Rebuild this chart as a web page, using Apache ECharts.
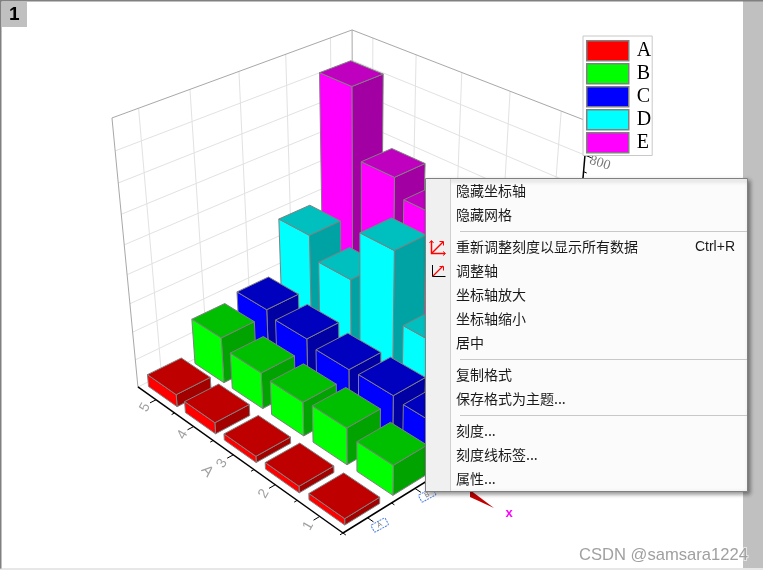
<!DOCTYPE html>
<html>
<head>
<meta charset="utf-8">
<script src="https://cdn.jsdelivr.net/npm/echarts@6/dist/echarts.min.js"></script>
<style>
html,body{margin:0;padding:0;background:#fff;}
#main{width:763px;height:571px;}
</style>
</head>
<body>
<div id="main"></div>
<script>
// values, one list per row (index 0 = tick 1 ... index 4 = tick 5)
const seriesNames = ['A', 'B', 'C', 'D', 'E'];
const yTicks = ['1', '2', '3', '4', '5'];
const valuesA = [22, 23, 22, 40, 44];
const valuesB = [104, 129, 120, 129, 164];
const valuesC = [140, 150, 147, 166, 185];
const valuesD = [200, 238, 475, 297, 375];
const valuesE = [400, 450, 517, 577, 812];
const allValues = [valuesA, valuesB, valuesC, valuesD, valuesE];
const seriesColors = ['#ff0000', '#00ff00', '#0000ff', '#00ffff', '#ff00ff'];
const zMax = 900;
const zGrid = [100, 200, 300, 400, 500, 600, 700, 800];
const zLabels = ['800'];

const menuRows = [
  ['隐藏坐标轴', 191], ['隐藏网格', 215], ['重新调整刻度以显示所有数据', 247], ['调整轴', 271],
  ['坐标轴放大', 295], ['坐标轴缩小', 319], ['居中', 343], ['复制格式', 375],
  ['保存格式为主题...', 399], ['刻度...', 431], ['刻度线标签...', 455], ['属性...', 479]
];
const menuSeps = [231, 359, 415];

// perspective camera fitted to the box corners: three vanishing points + depth factors
const origin = [343, 533];
const vanishX = [2316, -690], vanishY = [-1220, -580], vanishZ = [362, 2707];
const kx = 0.1261, ky = 0.151, kz = -0.1196;

const barW = 0.36, barD = 0.39; // half footprint, in category units

function project(u, v, w) {
  const d = 1 + kx * u + ky * v + kz * w;
  return [
    (origin[0] + kx * u * vanishX[0] + ky * v * vanishY[0] + kz * w * vanishZ[0]) / d,
    (origin[1] + kx * u * vanishX[1] + ky * v * vanishY[1] + kz * w * vanishZ[1]) / d
  ];
}
// category position / value -> unit box
const toU = i => (i + 0.5) / seriesNames.length;
const toV = i => (i + 0.5) / yTicks.length;
const toW = z => z / zMax;

function shade(hex, f) {
  const n = parseInt(hex.slice(1), 16);
  const r = Math.round((n >> 16 & 255) * f), gr = Math.round((n >> 8 & 255) * f), b = Math.round((n & 255) * f);
  return 'rgb(' + r + ',' + gr + ',' + b + ')';
}
function pt(api, u, v, w) {
  return api.coord(project(u, v, w));
}
function seg(api, a, b, color, width) {
  const p = pt(api, a[0], a[1], a[2]), q = pt(api, b[0], b[1], b[2]);
  return {
    type: 'line',
    shape: { x1: p[0], y1: p[1], x2: q[0], y2: q[1] },
    style: { stroke: color, lineWidth: width }
  };
}
function label(api, a, dx, dy, text, rot, font, color) {
  const p = pt(api, a[0], a[1], a[2]);
  return {
    type: 'text', x: p[0] + dx, y: p[1] + dy, rotation: rot,
    style: { text: text, font: font, fill: color, align: 'center', verticalAlign: 'middle' }
  };
}

// walls, grid, axes and their ticks
function renderFrame(params, api) {
  const kids = [];
  const light = '#e2e2e2', edge = '#a8a8a8';
  zGrid.forEach(z => {
    const w = toW(z);
    kids.push(seg(api, [0, 1, w], [1, 1, w], light, 1));
    kids.push(seg(api, [1, 1, w], [1, 0, w], light, 1));
  });
  seriesNames.forEach((n, i) => {
    kids.push(seg(api, [toU(i), 1, 0], [toU(i), 1, 1], light, 1));
  });
  yTicks.forEach((n, i) => {
    kids.push(seg(api, [1, toV(i), 0], [1, toV(i), 1], light, 1));
  });
  kids.push(seg(api, [0, 1, 0], [1, 1, 0], light, 1));
  kids.push(seg(api, [1, 1, 0], [1, 0, 0], light, 1));
  kids.push(seg(api, [0, 1, 1], [1, 1, 1], edge, 1));
  kids.push(seg(api, [1, 1, 1], [1, 0, 1], edge, 1));
  kids.push(seg(api, [0, 1, 0], [0, 1, 1], edge, 1));
  kids.push(seg(api, [1, 1, 0], [1, 1, 1], edge, 1));

  // y axis, front left
  kids.push(seg(api, [0, 0, 0], [0, 1, 0], '#000', 1.5));
  yTicks.forEach((n, i) => {
    kids.push(seg(api, [0, toV(i), 0], [-0.025, toV(i), 0], '#000', 1));
    kids.push(seg(api, [0, i / yTicks.length, 0], [-0.012, i / yTicks.length, 0], '#000', 1));
    kids.push(label(api, [-0.07, toV(i), 0], 6, -1, n, 1.05, '14px "Liberation Sans"', '#a0a0a0'));
  });
  kids.push(label(api, [-0.07, 0.5, 0], -9, 7, 'A', -0.85, '15px "Liberation Sans"', '#a0a0a0'));

  // x axis, front right
  kids.push(seg(api, [0, 0, 0], [1, 0, 0], '#000', 1.5));
  seriesNames.forEach((n, i) => {
    kids.push(seg(api, [toU(i), 0, 0], [toU(i), -0.025, 0], '#000', 1));
    kids.push(seg(api, [i / seriesNames.length, 0, 0], [i / seriesNames.length, -0.012, 0], '#000', 1));
    // selected tick labels: tiny text inside a dashed blue box
    const c = pt(api, toU(i), -0.08, 0);
    kids.push({
      type: 'group', x: c[0] - 7, y: c[1] - 6, rotation: 0.5,
      children: [
        { type: 'rect', shape: { x: -8, y: -4, width: 16, height: 8, r: 1 },
          style: { fill: 'none', stroke: '#4a7fe0', lineWidth: 1, lineDash: [2, 1] } },
        { type: 'text', x: 0, y: 0,
          style: { text: n, font: '7px "Liberation Sans"', fill: '#777', align: 'center', verticalAlign: 'middle' } }
      ]
    });
  });

  // z axis on the right corner
  kids.push(seg(api, [1, 0, 0], [1, 0, 1], '#000', 1.5));
  zGrid.forEach(z => {
    kids.push(seg(api, [1, 0, toW(z)], [1, -0.025, toW(z)], '#000', 1));
    kids.push(seg(api, [1, 0, toW(z - 50)], [1, -0.012, toW(z - 50)], '#000', 1));
  });
  zLabels.forEach(t => {
    kids.push(label(api, [1, 0, toW(+t)], 15, 8, t, -0.3, '14px "Liberation Serif"', '#777777'));
  });
  return { type: 'group', children: kids };
}

function renderBar(params, api) {
  const ui = seriesNames.indexOf(params.seriesName);
  const vi = api.value(0);
  const w = toW(api.value(1));
  const u0 = (ui + 0.5 - barW) / 5, u1 = (ui + 0.5 + barW) / 5;
  const v0 = (vi + 0.5 - barD) / 5, v1 = (vi + 0.5 + barD) / 5;
  const color = seriesColors[ui];
  const stroke = { stroke: '#808080', lineWidth: 1 };
  const poly = (pts, fill) => ({
    type: 'polygon',
    shape: { points: pts.map(p => pt(api, p[0], p[1], p[2])) },
    style: Object.assign({ fill: fill }, stroke)
  });
  return {
    type: 'group',
    children: [
      poly([[u0, v0, 0], [u1, v0, 0], [u1, v0, w], [u0, v0, w]], shade(color, 0.64)),
      poly([[u0, v0, 0], [u0, v1, 0], [u0, v1, w], [u0, v0, w]], color),
      poly([[u0, v0, w], [u1, v0, w], [u1, v1, w], [u0, v1, w]], shade(color, 0.75))
    ]
  };
}

// far rows first so nearer bars paint over them, same for ticks inside a row
const barSeries = seriesNames.map((name, i) => ({
  name: name,
  type: 'custom',
  coordinateSystem: 'cartesian2d',
  renderItem: renderBar,
  itemStyle: { color: seriesColors[i] },
  silent: true,
  data: allValues[i].map((val, j) => [j, val]).reverse()
})).reverse();

const g = [];
const Z = 100;
g.push({ type: 'rect', z: Z - 5, shape: { x: 743, y: 0, width: 20, height: 568 }, style: { fill: '#c0c0c0' } });
g.push({ type: 'rect', z: Z - 5, shape: { x: 0, y: 0, width: 763, height: 1.5 }, style: { fill: '#808080' } });
g.push({ type: 'rect', z: Z - 5, shape: { x: 0, y: 0, width: 1.5, height: 569 }, style: { fill: '#808080' } });
g.push({ type: 'rect', z: Z - 5, shape: { x: 0, y: 568.5, width: 763, height: 1 }, style: { fill: '#d0d0d0' } });
g.push({ type: 'rect', z: Z - 5, shape: { x: 2, y: 2, width: 25, height: 25 }, style: { fill: '#c0c0c0' } });
g.push({ type: 'text', z: Z - 4, x: 9, y: 15, style: { text: '1', font: 'bold 19px "Liberation Sans"', fill: '#000', verticalAlign: 'middle' } });

// arrow of the x direction and its letter, partly under the menu
g.push({ type: 'polygon', z: Z - 4, shape: { points: [[470, 490], [494, 508], [470, 497]] }, style: { fill: '#c00000' } });
g.push({ type: 'text', z: Z - 4, x: 509, y: 513, style: { text: 'x', font: 'bold 13px "Liberation Sans"', fill: '#ff00ff', align: 'center', verticalAlign: 'middle' } });

// context menu
g.push({
  type: 'rect', z: Z, shape: { x: 425.5, y: 178.5, width: 322, height: 313 },
  style: { fill: '#fbfbfb', stroke: '#808080', lineWidth: 1, shadowBlur: 4, shadowOffsetX: 2, shadowOffsetY: 2, shadowColor: 'rgba(0,0,0,0.4)' }
});
g.push({ type: 'rect', z: Z + 1, shape: { x: 426, y: 179, width: 24, height: 312 }, style: { fill: '#f0f0f0' } });
g.push({ type: 'line', z: Z + 1, shape: { x1: 450.5, y1: 179, x2: 450.5, y2: 491 }, style: { stroke: '#d0d0d0', lineWidth: 1 } });
menuSeps.forEach(y => {
  g.push({ type: 'line', z: Z + 1, shape: { x1: 460, y1: y + 0.5, x2: 747, y2: y + 0.5 }, style: { stroke: '#c8c8c8', lineWidth: 1 } });
});
menuRows.forEach(r => {
  g.push({ type: 'text', z: Z + 1, x: 456, y: r[1], style: { text: r[0], font: '14px "Noto Sans CJK SC"', fill: '#1a1a1a', verticalAlign: 'middle' } });
});
g.push({ type: 'text', z: Z + 1, x: 735, y: 247, style: { text: 'Ctrl+R', font: '14px "Liberation Sans"', fill: '#1a1a1a', align: 'right', verticalAlign: 'middle' } });

// two small menu icons
function menuLine(pts, color, width) {
  g.push({ type: 'polyline', z: Z + 2, shape: { points: pts }, style: { fill: 'none', stroke: color, lineWidth: width } });
}
menuLine([[431.5, 241], [431.5, 253.5], [445, 253.5]], '#ff0000', 1.5);
menuLine([[432, 253], [443, 242]], '#ff0000', 1.5);
menuLine([[429.5, 243], [431.5, 240.5], [433.5, 243]], '#ff0000', 1);
menuLine([[443, 251.5], [445.5, 253.5], [443, 255.5]], '#ff0000', 1);
menuLine([[439.5, 241.5], [443.5, 241.5], [443.5, 245.5]], '#ff0000', 1);
menuLine([[432.5, 265], [432.5, 276.5], [445.5, 276.5]], '#000000', 1);
menuLine([[433, 276], [443, 266]], '#ff0000', 1.2);
menuLine([[439.5, 266.5], [443.5, 266.5], [443.5, 270.5]], '#ff0000', 1);

g.push({
  type: 'text', z: Z + 5, x: 748, y: 555,
  style: { text: 'CSDN @samsara1224', font: '16.6px "Liberation Sans"', fill: '#a0a0a0', align: 'right', verticalAlign: 'middle', stroke: 'rgba(255,255,255,0.6)', lineWidth: 2 }
});

const myChart = echarts.init(document.getElementById('main'), null, { renderer: 'canvas' });
myChart.setOption({
  animation: false,
  backgroundColor: '#ffffff',
  grid: { left: 0, right: 0, top: 0, bottom: 0 },
  xAxis: { type: 'value', min: 0, max: 763, show: false },
  yAxis: { type: 'value', min: 0, max: 571, inverse: true, show: false },
  legend: {
    data: seriesNames,
    orient: 'vertical',
    left: 583,
    top: 36,
    icon: 'rect',
    itemWidth: 42,
    itemHeight: 20,
    itemGap: 1.5,
    padding: [4, 1, 2, 3],
    selectedMode: false,
    borderColor: '#c8c8c8',
    borderWidth: 1,
    backgroundColor: '#ffffff',
    itemStyle: { borderColor: '#808080', borderWidth: 1.5 },
    textStyle: { fontFamily: 'Liberation Serif', fontSize: 20, lineHeight: 20, color: '#000', padding: [0, 0, 0, 3] }
  },
  graphic: { elements: g },
  series: [{
    type: 'custom',
    name: 'frame',
    coordinateSystem: 'cartesian2d',
    renderItem: renderFrame,
    silent: true,
    data: [[0, 0]]
  }].concat(barSeries)
});
</script>
</body>
</html>
